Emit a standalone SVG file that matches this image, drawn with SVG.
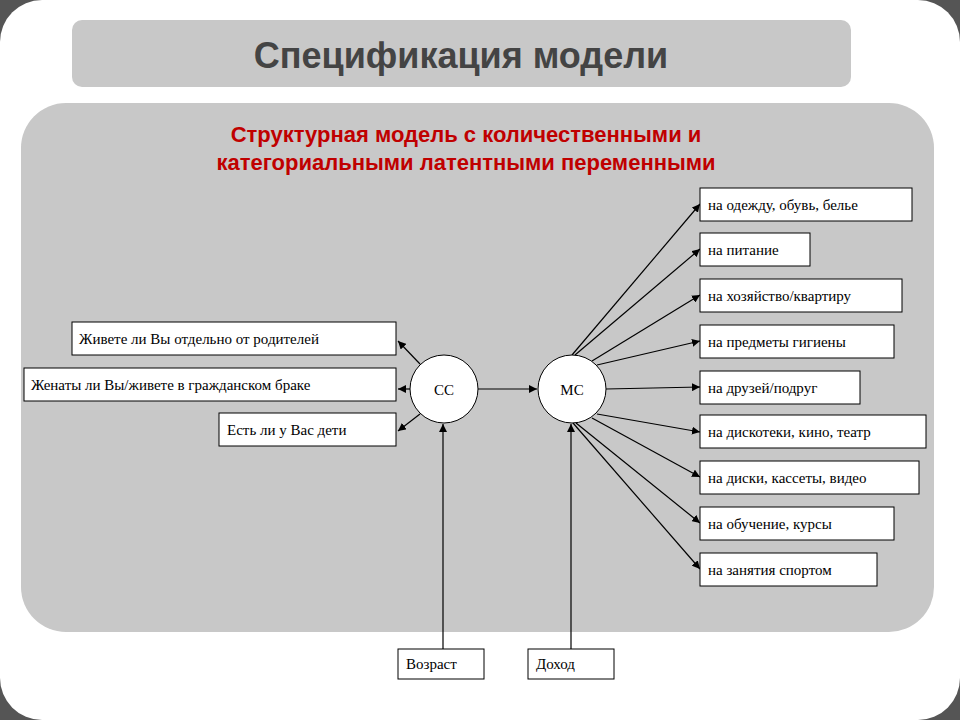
<svg xmlns="http://www.w3.org/2000/svg" width="960" height="720" viewBox="0 0 960 720">
<style>
.b{fill:#fff;stroke:#000;stroke-width:1}
.t{font-family:"Liberation Serif",serif;font-size:15px;fill:#000}
.c{stroke:#000;stroke-width:1.2;fill:none;marker-end:url(#a)}
</style>
<defs>
<marker id="a" viewBox="0 0 10 10" refX="10" refY="5" markerWidth="8" markerHeight="8" orient="auto-start-reverse" markerUnits="userSpaceOnUse"><path d="M0,0L10,5L0,10z" fill="#000"/></marker>
<radialGradient id="g" cx="0" cy="0" r="1"><stop offset="0" stop-color="#222"/><stop offset="1" stop-color="#777"/></radialGradient>
</defs>
<rect width="960" height="720" fill="#555"/>
<rect width="960" height="720" rx="42" fill="#fff"/>
<rect x="72" y="20" width="779" height="67" rx="10" fill="#c8c8c8"/>
<text x="461" y="68" text-anchor="middle" font-family="Liberation Sans,sans-serif" font-weight="bold" font-size="36" fill="#444">Спецификация модели</text>
<rect x="21" y="103" width="913" height="529" rx="45" fill="#c8c8c8"/>
<text x="466" y="142" text-anchor="middle" font-family="Liberation Sans,sans-serif" font-weight="bold" font-size="22" fill="#c00000">Структурная модель с количественными и</text>
<text x="466" y="170" text-anchor="middle" font-family="Liberation Sans,sans-serif" font-weight="bold" font-size="22" fill="#c00000">категориальными латентными переменными</text>
<g id="connectors">
<path class="c" d="M478,389L537,389"/>
<path class="c" d="M420,364L398,341"/>
<path class="c" d="M410,389L398,389"/>
<path class="c" d="M420,414L398,431"/>
<path class="c" d="M443,649L443,424"/>
<path class="c" d="M571,649L571,424"/>
<path class="c" d="M572,355L700,204"/>
<path class="c" d="M575,355L700,249"/>
<path class="c" d="M592,361L700,295"/>
<path class="c" d="M597,365L700,341"/>
<path class="c" d="M606,389L700,387"/>
<path class="c" d="M597,414L700,432"/>
<path class="c" d="M592,418L700,477"/>
<path class="c" d="M576,423L700,523"/>
<path class="c" d="M573,423L700,569"/>
</g>
<g id="CC"><circle class="b" cx="444" cy="389" r="34"/><text class="t" x="444" y="395" text-anchor="middle">CC</text></g>
<g id="MC"><circle class="b" cx="572" cy="389" r="34"/><text class="t" x="572" y="395" text-anchor="middle">MC</text></g>
<g id="l1"><rect class="b" x="72" y="322" width="324" height="33"/><text class="t" x="79" y="344">Живете ли  Вы отдельно от родителей</text></g>
<g id="l2"><rect class="b" x="24" y="368" width="372" height="33"/><text class="t" x="31" y="390">Женаты ли Вы/живете в гражданском браке</text></g>
<g id="l3"><rect class="b" x="219" y="413" width="177" height="33"/><text class="t" x="227" y="435">Есть ли у Вас  дети</text></g>
<g id="age"><rect class="b" x="398" y="649" width="86" height="30"/><text class="t" x="406" y="669">Возраст</text></g>
<g id="inc"><rect class="b" x="528" y="649" width="86" height="30"/><text class="t" x="536" y="669">Доход</text></g>
<g id="r1"><rect class="b" x="700" y="188" width="212" height="33"/><text class="t" x="708" y="210">на одежду, обувь, белье</text></g>
<g id="r2"><rect class="b" x="700" y="233" width="110" height="33"/><text class="t" x="708" y="255">на питание</text></g>
<g id="r3"><rect class="b" x="700" y="279" width="202" height="33"/><text class="t" x="708" y="301">на хозяйство/квартиру</text></g>
<g id="r4"><rect class="b" x="700" y="325" width="194" height="33"/><text class="t" x="708" y="347">на предметы гигиены</text></g>
<g id="r5"><rect class="b" x="700" y="371" width="160" height="33"/><text class="t" x="708" y="393">на друзей/подруг</text></g>
<g id="r6"><rect class="b" x="700" y="415" width="226" height="33"/><text class="t" x="708" y="437">на дискотеки, кино, театр</text></g>
<g id="r7"><rect class="b" x="700" y="461" width="219" height="33"/><text class="t" x="708" y="483">на диски, кассеты, видео</text></g>
<g id="r8"><rect class="b" x="700" y="507" width="194" height="33"/><text class="t" x="708" y="529">на обучение, курсы</text></g>
<g id="r9"><rect class="b" x="700" y="553" width="177" height="33"/><text class="t" x="708" y="575">на занятия спортом</text></g>
</svg>
